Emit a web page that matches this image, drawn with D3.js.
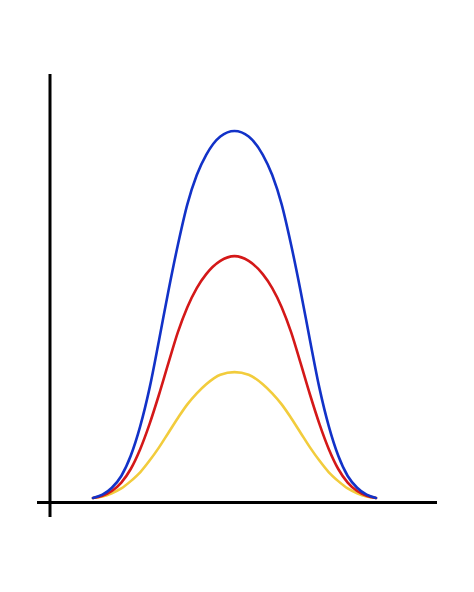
<!DOCTYPE html>
<html>
<head>
<meta charset="utf-8">
<script src="https://cdn.jsdelivr.net/npm/d3@7"></script>
<style>
  html, body { margin: 0; padding: 0; background: #fff; }
  svg { display: block; }
</style>
</head>
<body>
<svg id="chart" width="474" height="592"></svg>
<script>
// values: x 0..60 across the hump, y 0..100 (blue peak = 100)
const xs = [0, 2, 4, 6, 8, 10, 12, 14, 16, 18, 20, 22, 24, 27, 30,
            33, 36, 38, 40, 42, 44, 46, 48, 50, 52, 54, 56, 58, 60];

const blue = [0, 0.9, 2.8, 6, 11.5, 19.5, 30, 43, 56.5, 69, 80, 88, 93.5, 98.5, 100,
              98.5, 93.5, 88, 80, 69, 56.5, 43, 30, 19.5, 11.5, 6, 2.8, 0.9, 0];

const red = [0, 0.6, 1.9, 4.2, 7.9, 13.3, 20.2, 28.2, 36.8, 45.2, 52.0, 57.2, 61.0, 64.6, 65.9,
             64.6, 61.0, 57.2, 52.0, 45.2, 36.8, 28.2, 20.2, 13.3, 7.9, 4.2, 1.9, 0.6, 0];

const yellow = [0, 0.4, 1.3, 2.6, 4.6, 7.0, 10.2, 13.8, 17.8, 21.8, 25.5, 28.5, 31.0, 33.6, 34.3,
                33.6, 31.0, 28.5, 25.5, 21.8, 17.8, 13.8, 10.2, 7.0, 4.6, 2.6, 1.3, 0.4, 0];

const colors = { blue: "#1232c8", red: "#d41818", yellow: "#f2cc3c" };

const svg = d3.select("#chart");

const x = d3.scaleLinear().domain([0, 60]).range([93, 376]);
const y = d3.scaleLinear().domain([0, 100]).range([498, 131]);

// axes: bare lines, no ticks or labels
svg.append("line")
    .attr("x1", 50).attr("x2", 50)
    .attr("y1", 74).attr("y2", 517)
    .attr("stroke", "#000").attr("stroke-width", 3);
svg.append("line")
    .attr("x1", 37).attr("x2", 437)
    .attr("y1", 502.5).attr("y2", 502.5)
    .attr("stroke", "#000").attr("stroke-width", 3);

const line = d3.line()
    .x(d => x(d[0]))
    .y(d => y(d[1]))
    .curve(d3.curveMonotoneX);

// yellow first so blue sits on top
const series = [
    { name: "yellow", values: d3.zip(xs, yellow) },
    { name: "red", values: d3.zip(xs, red) },
    { name: "blue", values: d3.zip(xs, blue) }
];

svg.selectAll("path.curve")
    .data(series)
    .enter()
    .append("path")
    .attr("class", "curve")
    .attr("d", d => line(d.values))
    .attr("fill", "none")
    .attr("stroke", d => colors[d.name])
    .attr("stroke-width", 2.6)
    .attr("stroke-linecap", "round");
</script>
</body>
</html>
